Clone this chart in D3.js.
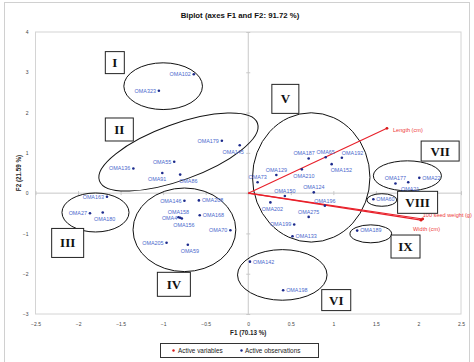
<!DOCTYPE html>
<html>
<head>
<meta charset="utf-8">
<script src="https://cdn.jsdelivr.net/npm/d3@7"></script>
<style>
    body { margin: 0; background: #fff; }
    svg { display: block; font-family: "Liberation Sans", Arial, sans-serif; }
</style>
</head>
<body>
<div id="chart"></div>
<script>
// Observation scores on F1 / F2
const obsNames = ["OMA102", "OMA323", "OMA179", "OMA145", "OMA55", "OMA136", "OMA91", "OMA86",
    "OMA163", "OMA27", "OMA180", "OMA146", "OMA208", "OMA158", "OMA4", "OMA156", "OMA168",
    "OMA70", "OMA205", "OMA59", "OMA187", "OMA65", "OMA192", "OMA152", "OMA129", "OMA210",
    "OMA73", "OMA150", "OMA124", "OMA202", "OMA196", "OMA275", "OMA199", "OMA133", "OMA177",
    "OMA21", "OMA22", "OMA60", "OMA189", "OMA142", "OMA198"]
const obsF1 = [-0.64, -1.05, -0.31, -0.1, -0.87, -1.35, -1.01, -0.8,
    -1.66, -1.86, -1.71, -0.75, -0.58, -0.82, -0.8, -0.78, -0.57,
    -0.21, -0.96, -0.71, 0.71, 0.91, 1.1, 0.98, 0.33, 0.63,
    0.11, 0.43, 0.77, 0.26, 0.9, 0.71, 0.54, 0.52, 1.73,
    1.88, 2.01, 1.47, 1.28, 0.02, 0.41]
const obsF2 = [2.95, 2.54, 1.3, 1.19, 0.78, 0.61, 0.5, 0.46,
    -0.09, -0.5, -0.48, -0.19, -0.18, -0.6, -0.61, -0.63, -0.55,
    -0.92, -1.23, -1.28, 0.86, 0.89, 0.88, 0.72, 0.45, 0.59,
    0.27, -0.07, 0.02, -0.23, -0.31, -0.59, -0.78, -1.07, 0.24,
    0.27, 0.38, -0.15, -0.93, -1.7, -2.41]

// Active variables (arrows from the origin)
const varNames = ["Length (cm)", "100 seed weight (g)", "Width (cm)"]
const varF1 = [1.63, 2.05, 2.03]
const varF2 = [1.61, -0.64, -0.67]

// Tick labels
const xTicks = [-2.5, -2, -1.5, -1, -0.5, 0, 0.5, 1, 1.5, 2, 2.5]
const yTicks = [-3, -2, -1, 0, 1, 2, 3, 4]

// Cluster groups drawn by hand on the original: ellipse in F1/F2 units + numeral box
const groupNames = ["I", "II", "III", "IV", "V", "VI", "VII", "VIII", "IX"]
const groupCx = [-1.0, -0.82, -1.795, -0.75, 0.74, 0.4, 1.87, 1.57, 1.44]
const groupCy = [2.655, 1.02, -0.48, -0.91, 0.39, -2.03, 0.43, -0.17, -1.01]
const groupRx = [0.462, 0.988, 0.394, 0.604, 0.69, 0.526, 0.4, 0.176, 0.245]
const groupRy = [0.58, 0.695, 0.484, 1.037, 1.605, 0.628, 0.372, 0.156, 0.223]
const groupBoxX = [-1.568, -1.515, -2.122, -0.874, 0.436, 1.034, 2.255, 1.99, 1.848]
const groupBoxY = [3.24, 1.58, -1.236, -2.263, 2.34, -2.655, 1.045, -0.228, -1.325]

// Where each point label sits relative to its dot
const labelSide = {
    "OMA145": "bl", "OMA91": "bl", "OMA86": "br", "OMA180": "b", "OMA208": "r",
    "OMA158": "t", "OMA156": "b", "OMA168": "r", "OMA59": "b", "OMA187": "tl",
    "OMA65": "t", "OMA192": "tr", "OMA152": "br", "OMA129": "t", "OMA210": "b",
    "OMA73": "t", "OMA150": "t", "OMA124": "t", "OMA202": "b", "OMA196": "t",
    "OMA275": "t", "OMA133": "r", "OMA177": "t", "OMA21": "b", "OMA22": "r",
    "OMA60": "r", "OMA189": "r", "OMA142": "r", "OMA198": "r"
}
const sideOffset = {
    "l": { dx: -3, dy: 0, anchor: "end" },
    "r": { dx: 3, dy: 0, anchor: "start" },
    "t": { dx: 0, dy: -5, anchor: "middle" },
    "tl": { dx: 6, dy: -5, anchor: "end" },
    "b": { dx: 2, dy: 6.5, anchor: "middle" },
    "bl": { dx: 4, dy: 6.5, anchor: "end" },
    "br": { dx: -1, dy: 6, anchor: "start" },
    "tr": { dx: 0, dy: -5, anchor: "start" }
}
const groupBoxSize = [[19, 22], [28, 23], [32, 29], [33, 24], [27, 29], [29, 21], [38, 20], [40, 22], [29, 23]]

const width = 474
const height = 362
const plot = { left: 35.5, right: 461, top: 32, bottom: 314 }

const x = d3.scaleLinear().domain([-2.5, 2.5]).range([plot.left, plot.right])
const y = d3.scaleLinear().domain([-3, 4]).range([plot.bottom, plot.top])

const svg = d3.select("#chart")
    .append("svg")
    .attr("width", width)
    .attr("height", height)

// Outer chart frame
svg.append("rect")
    .attr("x", 4.5).attr("y", 2.5)
    .attr("width", 465).attr("height", 370)
    .attr("fill", "none").attr("stroke", "#d0d0d0")

svg.append("text")
    .attr("x", 240).attr("y", 18)
    .attr("text-anchor", "middle")
    .attr("font-size", 7.8).attr("font-weight", "bold")
    .attr("fill", "#111")
    .text("Biplot (axes F1 and F2: 91.72 %)")

// Plot area border
svg.append("rect")
    .attr("x", plot.left).attr("y", plot.top)
    .attr("width", plot.right - plot.left).attr("height", plot.bottom - plot.top)
    .attr("fill", "none").attr("stroke", "#d4d4d4")

// Zero lines with crossing ticks
svg.append("line")
    .attr("x1", x(0)).attr("x2", x(0)).attr("y1", plot.top).attr("y2", plot.bottom)
    .attr("stroke", "#c8c8c8")
svg.append("line")
    .attr("x1", plot.left).attr("x2", plot.right).attr("y1", y(0)).attr("y2", y(0))
    .attr("stroke", "#c8c8c8")

const xZero = svg.append("g")
    .attr("transform", translate(0, y(0) - 2))
    .call(d3.axisBottom(x).tickValues(xTicks).tickSize(4).tickSizeOuter(0).tickFormat(""))
xZero.select(".domain").remove()
const yZero = svg.append("g")
    .attr("transform", translate(x(0) + 2, 0))
    .call(d3.axisLeft(y).tickValues(yTicks).tickSize(4).tickSizeOuter(0).tickFormat(""))
yZero.select(".domain").remove()
svg.selectAll(".tick line").attr("stroke", "#c8c8c8")

// Tick labels along the plot edges
const xAxis = svg.append("g")
    .attr("transform", translate(0, plot.bottom + 5))
    .call(d3.axisBottom(x).tickValues(xTicks).tickSize(0).tickFormat(d3.format("")))
const yAxis = svg.append("g")
    .attr("transform", translate(plot.left - 4, 0))
    .call(d3.axisLeft(y).tickValues(yTicks).tickSize(0).tickFormat(d3.format("")))
for (const axis of [xAxis, yAxis]) {
    axis.select(".domain").remove()
    axis.selectAll("text").attr("font-size", 5).attr("fill", "#444").attr("font-family", null)
}

svg.append("text")
    .attr("x", x(0)).attr("y", 335)
    .attr("text-anchor", "middle")
    .attr("font-size", 6.3).attr("font-weight", "bold").attr("fill", "#222")
    .text("F1 (70.13 %)")
svg.append("text")
    .attr("transform", translate(21, (plot.top + plot.bottom) / 2) + " rotate(-90)")
    .attr("text-anchor", "middle")
    .attr("font-size", 6.3).attr("font-weight", "bold").attr("fill", "#222")
    .text("F2 (21.59 %)")

// Group ellipses
const groups = groupNames.map((name, i) => ({
    name,
    cx: groupCx[i], cy: groupCy[i], rx: groupRx[i], ry: groupRy[i],
    bx: groupBoxX[i], by: groupBoxY[i], size: groupBoxSize[i]
}))
svg.append("g")
    .selectAll("ellipse")
    .data(groups)
    .join("ellipse")
    .attr("cx", (d) => x(d.cx))
    .attr("cy", (d) => y(d.cy))
    .attr("rx", (d) => x(d.rx) - x(0))
    .attr("ry", (d) => y(0) - y(d.ry))
    .attr("transform", (d) => d.name === "II" ? `rotate(-20,${x(d.cx)},${y(d.cy)})` : null)
    .attr("fill", "none")
    .attr("stroke", "#111")
    .attr("stroke-width", 1)

// Variable arrows
const vars = varNames.map((name, i) => ({ name, f1: varF1[i], f2: varF2[i] }))
const varLabel = {
    "Length (cm)": [6, 2],
    "100 seed weight (g)": [0, -4],
    "Width (cm)": [-8, 9]
}
const varG = svg.append("g")
varG.selectAll("line")
    .data(vars)
    .join("line")
    .attr("x1", x(0)).attr("y1", y(0))
    .attr("x2", (d) => x(d.f1)).attr("y2", (d) => y(d.f2))
    .attr("stroke", "#e8202a").attr("stroke-width", 1.1)
varG.selectAll("circle")
    .data(vars)
    .join("circle")
    .attr("cx", (d) => x(d.f1)).attr("cy", (d) => y(d.f2))
    .attr("r", 1.4).attr("fill", "#d91a1a")
varG.selectAll("text")
    .data(vars)
    .join("text")
    .attr("x", (d) => x(d.f1) + varLabel[d.name][0])
    .attr("y", (d) => y(d.f2) + varLabel[d.name][1])
    .attr("dy", "0.35em")
    .attr("font-size", 5.6).attr("fill", "#ee3b3b")
    .text((d) => d.name)

// Observations
const obs = obsNames.map((name, i) => ({ name, f1: obsF1[i], f2: obsF2[i], side: labelSide[name] || "l" }))
const obsG = svg.append("g")
obsG.selectAll("circle")
    .data(obs)
    .join("circle")
    .attr("cx", (d) => x(d.f1)).attr("cy", (d) => y(d.f2))
    .attr("r", 1.3).attr("fill", "#1c2a8c")
obsG.selectAll("text")
    .data(obs)
    .join("text")
    .attr("x", (d) => x(d.f1) + sideOffset[d.side].dx)
    .attr("y", (d) => y(d.f2) + sideOffset[d.side].dy)
    .attr("dy", "0.35em")
    .attr("text-anchor", (d) => sideOffset[d.side].anchor)
    .attr("font-size", 5.4).attr("fill", "#4a68cc")
    .text((d) => d.name)

// Numeral boxes sit on top of everything
const boxG = svg.append("g")
    .selectAll("g")
    .data(groups)
    .join("g")
    .attr("transform", (d) => translate(x(d.bx), y(d.by)))
boxG.append("rect")
    .attr("x", (d) => -d.size[0] / 2).attr("y", (d) => -d.size[1] / 2)
    .attr("width", (d) => d.size[0]).attr("height", (d) => d.size[1])
    .attr("fill", "#fff").attr("stroke", "#222").attr("stroke-width", 1)
boxG.append("text")
    .attr("text-anchor", "middle")
    .attr("dy", "0.35em")
    .attr("font-family", "'Liberation Serif', 'Times New Roman', serif")
    .attr("font-size", 13).attr("font-weight", "bold").attr("fill", "#111")
    .text((d) => d.name)

// Legend
const legend = svg.append("g").attr("transform", translate(160, 343))
legend.append("rect")
    .attr("x", 0.5).attr("y", 0.5).attr("width", 158).attr("height", 14)
    .attr("fill", "#fff").attr("stroke", "#333")
legend.append("circle").attr("cx", 13.5).attr("cy", 7.5).attr("r", 1.2).attr("fill", "#d91a1a")
legend.append("text").attr("x", 18).attr("y", 7.5).attr("dy", "0.35em")
    .attr("font-size", 6.4).attr("fill", "#222").text("Active variables")
legend.append("circle").attr("cx", 81.5).attr("cy", 7.5).attr("r", 1.2).attr("fill", "#1c2a8c")
legend.append("text").attr("x", 85).attr("y", 7.5).attr("dy", "0.35em")
    .attr("font-size", 6.4).attr("fill", "#222").text("Active observations")

function translate(x, y) {
    return `translate(${x},${y})`
}
</script>
</body>
</html>
